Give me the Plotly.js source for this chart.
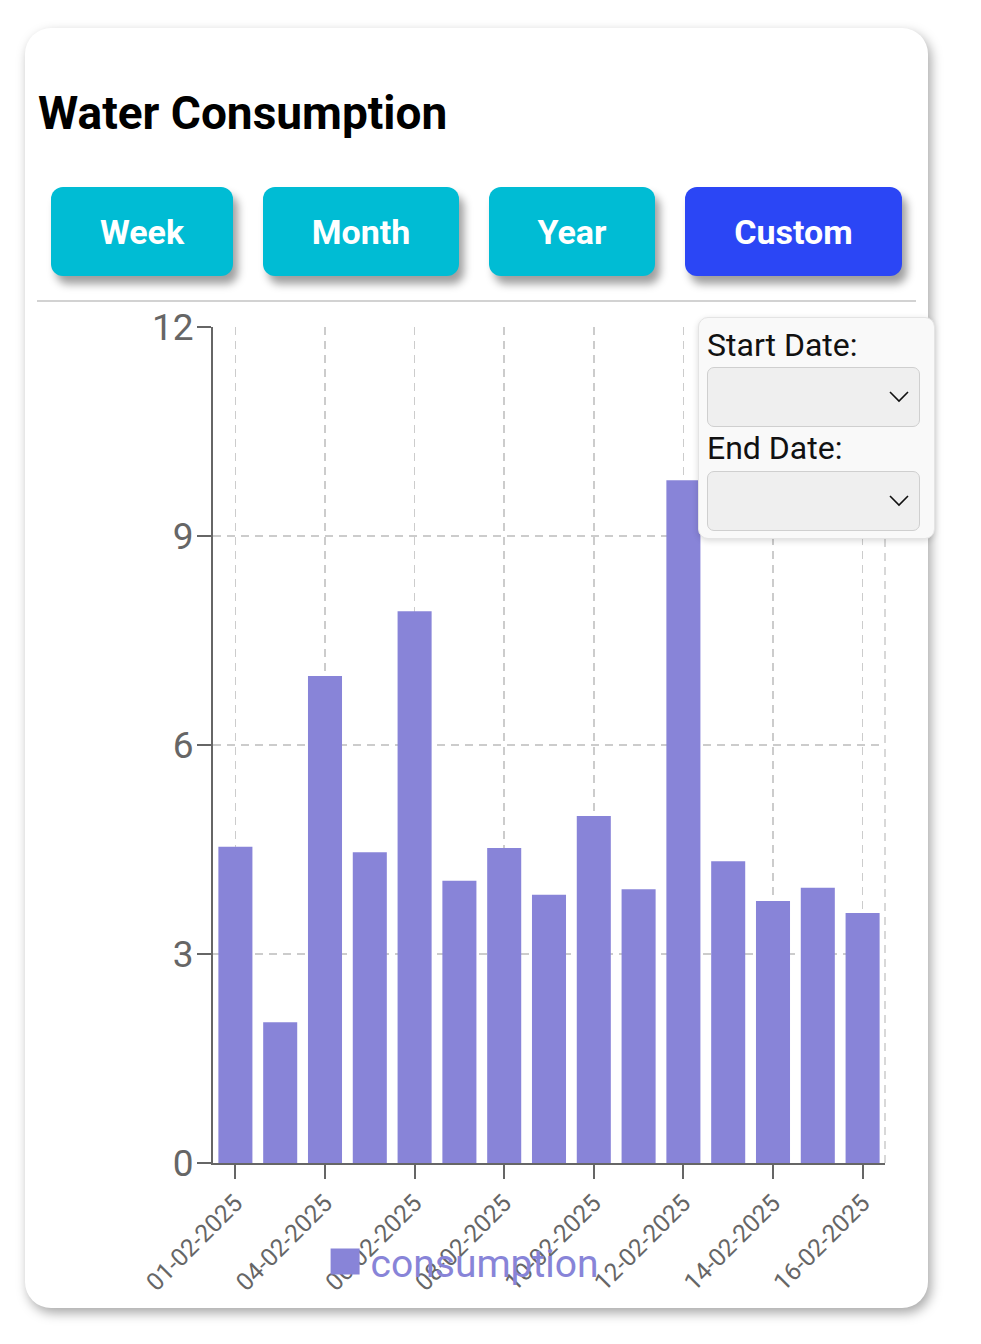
<!DOCTYPE html>
<html>
<head>
<meta charset="utf-8">
<script src="https://cdn.plot.ly/plotly-3.0.1.min.js"></script>
<style>
  html, body { margin: 0; padding: 0; background: #ffffff; width: 981px; height: 1344px; overflow: hidden; font-family: Roboto, "Noto Sans", sans-serif; }
  .card { position: absolute; left: 25px; top: 28px; width: 903px; height: 1280px; background: #fff; border-radius: 26px; box-shadow: 3px 5px 12px rgba(0,0,0,0.35); }
  .title { position: absolute; left: 38px; top: 85px; margin: 0; font-size: 46px; font-weight: 700; color: #000; line-height: 56px; }
  .btn { position: absolute; top: 187px; height: 89px; border-radius: 12px; background: #00bcd4; color: #fff; font-weight: 700; font-size: 34px; display: flex; align-items: center; justify-content: center; box-shadow: 5px 8px 9px rgba(0,0,0,0.38); }
  .btn.active { background: #2b46f5; }
  .sep { position: absolute; left: 37px; top: 300px; width: 879px; height: 2px; background: #d2d2d2; }
  #chart { position: absolute; left: 0; top: 0; width: 981px; height: 1344px; z-index: 1; }
  .panel { position: absolute; left: 698px; top: 317px; width: 237px; height: 222px; background: #f9f9f9; border: 1px solid #e4e4e4; border-radius: 10px; box-shadow: 0 2px 6px rgba(0,0,0,0.15); z-index: 2; box-sizing: border-box; }
  .lbl { position: absolute; left: 8px; font-size: 32px; color: #111; line-height: 36px; }
  .sel { position: absolute; left: 8px; width: 213px; height: 60px; background: #efefef; border: 1.5px solid #cfcfcf; border-radius: 7px; box-sizing: border-box; }
  .sel svg { position: absolute; right: 10px; top: 23px; }
</style>
</head>
<body>
<div class="card"></div>
<h1 class="title" style="position:absolute;z-index:0">Water Consumption</h1>
<div class="btn" style="left:51px;width:182px;">Week</div>
<div class="btn" style="left:263px;width:196px;">Month</div>
<div class="btn" style="left:489px;width:166px;">Year</div>
<div class="btn active" style="left:685px;width:217px;">Custom</div>
<div class="sep"></div>
<div id="chart"></div>
<div class="panel">
  <div class="lbl" style="top:9px;">Start Date:</div>
  <div class="sel" style="top:49px;"><svg width="20" height="12" viewBox="0 0 20 12"><polyline points="1,1 10,10 19,1" fill="none" stroke="#111" stroke-width="1.6"/></svg></div>
  <div class="lbl" style="top:112px;">End Date:</div>
  <div class="sel" style="top:153px;"><svg width="20" height="12" viewBox="0 0 20 12"><polyline points="1,1 10,10 19,1" fill="none" stroke="#111" stroke-width="1.6"/></svg></div>
</div>
<script>
const dates = ['01-02-2025','03-02-2025','04-02-2025','05-02-2025','06-02-2025','07-02-2025','08-02-2025','09-02-2025','10-02-2025','11-02-2025','12-02-2025','13-02-2025','14-02-2025','15-02-2025','16-02-2025'];
const consumption = [4.54, 2.02, 6.99, 4.46, 7.92, 4.05, 4.52, 3.85, 4.98, 3.93, 9.80, 4.33, 3.76, 3.95, 3.59];
const yTicks = [0, 3, 6, 9, 12];
const seriesName = 'consumption';

const xTicks = dates.filter((d, i) => i % 2 === 0);

const trace = {
  type: 'bar',
  x: dates,
  y: consumption,
  name: seriesName,
  marker: { color: '#8884d8' },
  showlegend: true,
  hoverinfo: 'x+y'
};

const axisCommon = {
  showline: true, linecolor: '#666', linewidth: 2,
  ticks: 'outside', ticklen: 14, tickwidth: 2, tickcolor: '#666',
  showgrid: true, gridcolor: '#cccccc', griddash: '8px,6px', gridwidth: 1.5,
  zeroline: false
};

const layout = {
  width: 981, height: 1344,
  margin: { l: 213, r: 96, t: 327, b: 181, pad: 0 },
  paper_bgcolor: 'rgba(0,0,0,0)',
  plot_bgcolor: 'rgba(0,0,0,0)',
  font: { family: 'Roboto, sans-serif', color: '#666' },
  bargap: 0.24,
  xaxis: Object.assign({}, axisCommon, {
    type: 'category',
    range: [-0.5, dates.length - 0.5],
    tickmode: 'array', tickvals: xTicks, ticktext: xTicks,
    tickangle: -45,
    tickfont: { size: 24.5, color: '#666', family: 'Roboto, sans-serif' }
  }),
  yaxis: Object.assign({}, axisCommon, {
    range: [0, 12],
    tickmode: 'array', tickvals: yTicks, ticktext: yTicks.map(String),
    ticklabelstandoff: -4,
    tickfont: { size: 37, color: '#666', family: 'Roboto, sans-serif' }
  }),
  shapes: [
    { type: 'line', xref: 'paper', yref: 'paper', x0: 1, x1: 1, y0: 0, y1: 1, layer: 'below',
      line: { color: '#cccccc', width: 1.5, dash: '8px,6px' } }
  ],
  legend: {
    orientation: 'h',
    x: 0.175, xanchor: 'left',
    y: -0.118, yanchor: 'middle',
    bgcolor: 'rgba(0,0,0,0)',
    font: { size: 39, color: '#8884d8', family: 'Roboto, sans-serif' },
    itemwidth: 30
  }
};

Plotly.newPlot('chart', [trace], layout, { displayModeBar: false, staticPlot: true }).then(() => {
  document.querySelectorAll('#chart .legend .legendpoints path').forEach(p => {
    p.setAttribute('d', 'M-25,-13H9V13H-25Z');
  });
});
</script>
</body>
</html>
